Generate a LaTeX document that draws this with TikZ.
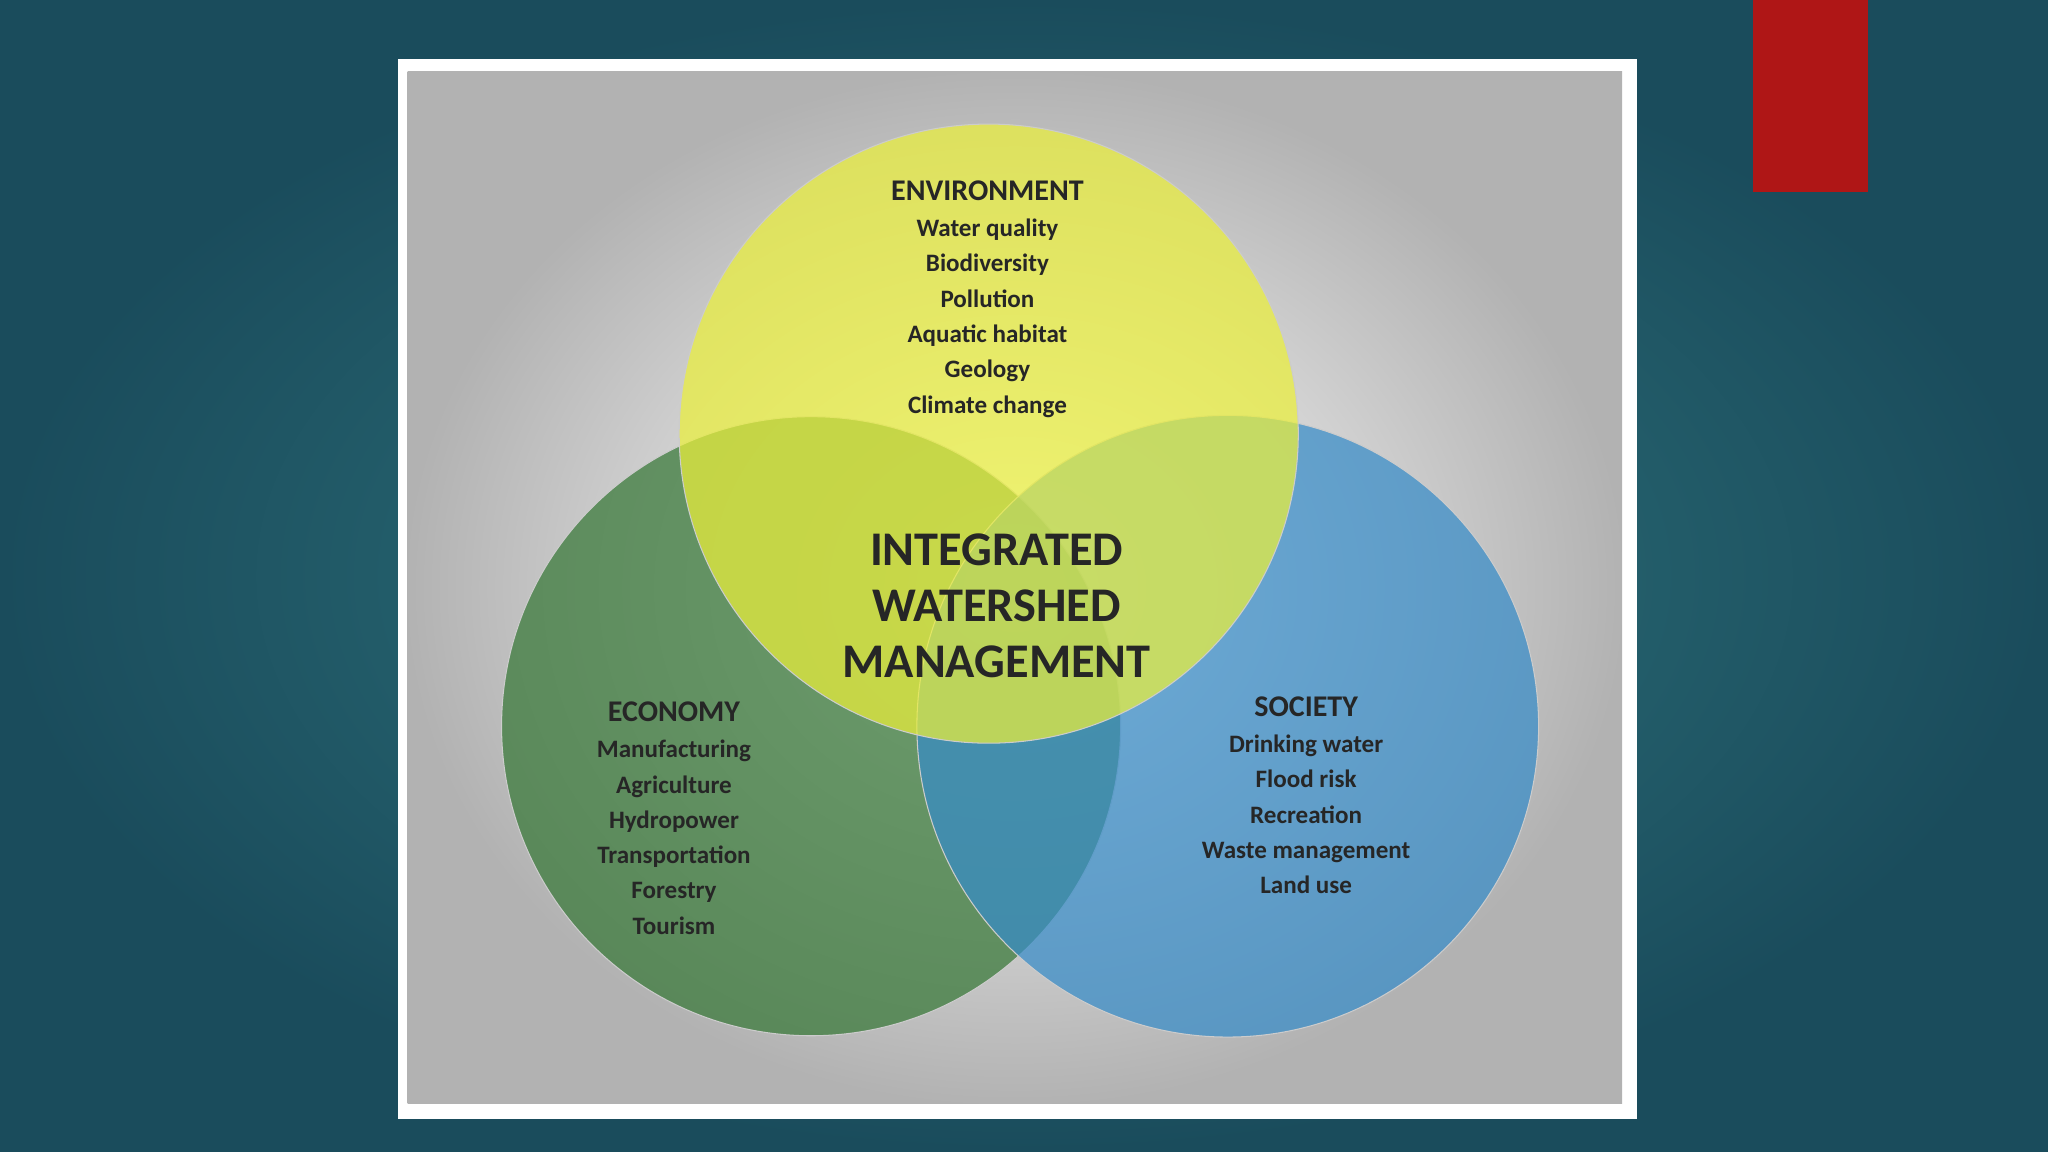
\documentclass[tikz,border=0pt]{standalone}
\usepackage{fontspec}
\setmainfont{Carlito}
\usetikzlibrary{positioning}
\tikzset{
  item/.style={font=\bfseries\fontsize{9.6}{13.5}\selectfont, text=black!85, align=center},
  head/.style={font=\bfseries\fontsize{11.5}{13}\selectfont, text=black!85},
  ring/.style={draw=black!20, line width=0.4pt, fill opacity=0.72}
}
\definecolor{bgA}{RGB}{48,118,126}
\definecolor{bgB}{RGB}{26,76,92}
\definecolor{yel}{RGB}{235,240,60}
\definecolor{grn}{RGB}{55,120,55}
\definecolor{blu}{RGB}{55,140,200}
\definecolor{redbox}{RGB}{175,22,22}
\begin{document}
\begin{tikzpicture}[x=0.5pt,y=-0.5pt]
\useasboundingbox (0,0) rectangle (1568,882);
\shade[inner color=bgA, outer color=bgB] (0,0) rectangle (1568,882);
\fill[redbox] (1342,0) rectangle (1430,147);
\fill[white] (305,45) rectangle (1253,857);
\shade[inner color=white, outer color=black!30] (312,55) rectangle (1242,845);
\fill[ring, fill=grn] (621,556) circle (237);
\fill[ring, fill=blu] (940,556) circle (238);
\fill[ring, fill=yel] (757,332) circle (237);
\node[head] (env) at (756,146) {ENVIRONMENT};
\node[item, below=0pt of env] (envi) {Water quality\\Biodiversity\\Pollution\\Aquatic habitat\\Geology\\Climate change};
\node[head] (eco) at (516,545) {ECONOMY};
\node[item, below=0pt of eco] (ecoi) {Manufacturing\\Agriculture\\Hydropower\\Transportation\\Forestry\\Tourism};
\node[head] (soc) at (1000,541) {SOCIETY};
\node[item, below=0pt of soc] (soci) {Drinking water\\Flood risk\\Recreation\\Waste management\\Land use};
\node[font=\bfseries\fontsize{18.5}{21.5}\selectfont, text=black!85, align=center] (iwm) at (763,464) {INTEGRATED\\WATERSHED\\MANAGEMENT};
\end{tikzpicture}
\end{document}
